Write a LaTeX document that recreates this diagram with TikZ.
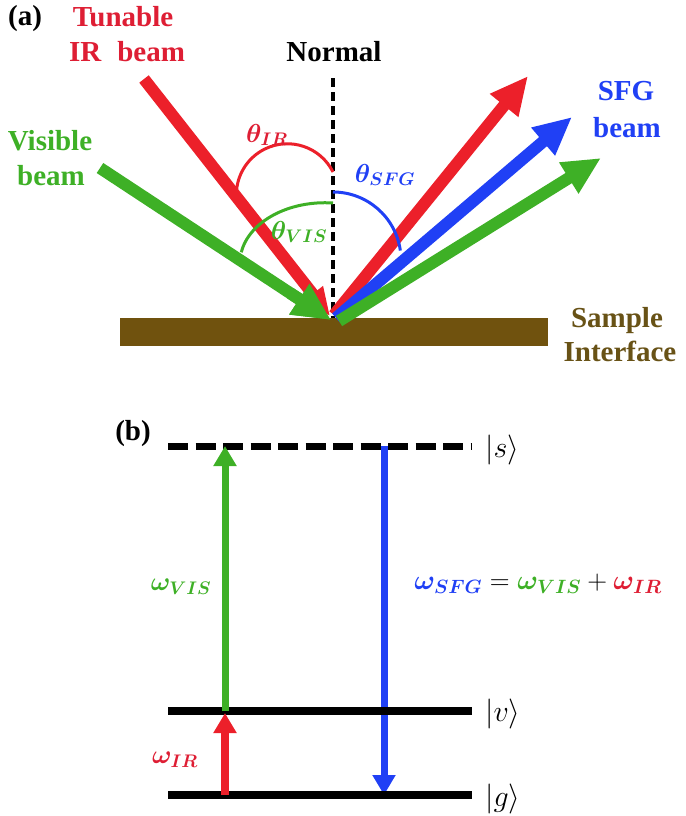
\RequirePackage{fix-cm}
\documentclass[tikz,border=0pt]{standalone}
\usepackage{amsmath}
\usepackage{fontspec}
\setmainfont{Liberation Serif}
\usetikzlibrary{arrows.meta}
\definecolor{beamred}{RGB}{236,32,42}
\definecolor{beamgreen}{RGB}{62,176,38}
\definecolor{beamblue}{RGB}{32,64,245}
\definecolor{textred}{RGB}{222,30,52}
\definecolor{sampbrown}{RGB}{112,82,14}
\definecolor{samptext}{RGB}{104,82,22}
\begin{document}
\begin{tikzpicture}[x=1pt,y=-1pt,
  lbl/.style={font=\fontsize{29}{34}\selectfont\bfseries, inner sep=0pt, anchor=base},
  mlbl/.style={font=\fontsize{26}{30}\selectfont, inner sep=0pt},
  eqlbl/.style={font=\fontsize{27.5}{31}\selectfont, inner sep=0pt},
  ketlbl/.style={font=\fontsize{30}{34}\selectfont, inner sep=0pt, anchor=west},
  beamline/.style={line width=12pt},
  bigtip/.style={-{Triangle[length=38pt,width=34pt]}},
  smalltip/.style={-{Triangle[length=28pt,width=24pt]}},
  angarc/.style={line width=3pt},
  normalline/.style={line width=3.5pt, dash pattern=on 9pt off 5pt},
  level/.style={line width=8pt},
  transarrow/.style={-{Triangle[length=20pt,width=22pt]}},
]
\useasboundingbox (0,0) rectangle (685,816);

% ---------------- (a) ----------------
\node[lbl] (alabel) at (25,26) {(a)};
\node[lbl, textred] (tun1) at (123,27) {Tunable};
\node[lbl, textred] (tun2) at (127,62) {IR\hspace{16pt}beam};
\node[lbl, black] (normal) at (334,61) {Normal};
\node[lbl, beamgreen] (vis1) at (50,150) {Visible};
\node[lbl, beamgreen] (vis2) at (51,185) {beam};
\node[lbl, beamblue] (sfg1) at (626,100) {SFG};
\node[lbl, beamblue] (sfg2) at (627,137) {beam};
\node[lbl, samptext] (samp1) at (617,327) {Sample};
\node[lbl, samptext] (samp2) at (620,361) {Interface};

% sample
\node[fill=sampbrown, inner sep=0pt, minimum width=428pt, minimum height=28pt] (surf) at (334,332) {};

% geometry points
\coordinate (O) at (333,318);
\coordinate (Ntop) at (333,78);
\coordinate (irin) at (144,79);
\coordinate (irtip) at (330,316);
\coordinate (visin) at (100,168);
\coordinate (vistip) at (331,320);
\coordinate (vismid) at (290,293);
\coordinate (irout0) at (334,315);
\coordinate (irout) at (528,76);
\coordinate (sfg0) at (336,318);
\coordinate (sfgout) at (572,117);
\coordinate (visout0) at (339,321);
\coordinate (visout) at (601,158);

\draw[normalline] (Ntop) -- (O);

% incident beams
\draw[beamline, beamgreen, bigtip] (visin) -- (vistip);
\draw[beamline, beamred, smalltip] (irin) -- (irtip);
\draw[beamline, beamgreen, bigtip] (vismid) -- (vistip);

% outgoing beams
\draw[beamline, beamred, bigtip] (irout0) -- (irout);
\draw[beamline, beamblue, bigtip] (sfg0) -- (sfgout);
\draw[beamline, beamgreen, bigtip] (visout0) -- (visout);

% angle arcs
\coordinate (arcIR) at (333,172);
\coordinate (arcVIS) at (333,203);
\coordinate (arcSFG) at (333,192);
\draw[angarc, beamred] (arcIR) arc[start angle=-26.5, end angle=-174.7, radius=51];
\draw[angarc, beamgreen] (arcVIS) arc[start angle=-84.6, end angle=-170, x radius=85, y radius=60];
\draw[angarc, beamblue] (arcSFG) arc[start angle=-90, end angle=-8, radius=68];

\node[mlbl, textred] (thIR) at (267,135) {$\boldsymbol{\theta_{IR}}$};
\node[mlbl, beamgreen] (thVIS) at (299,232) {$\boldsymbol{\theta_{VIS}}$};
\node[mlbl, beamblue] (thSFG) at (385,175) {$\boldsymbol{\theta_{SFG}}$};

% ---------------- (b) ----------------
\node[lbl] (blabel) at (133,440) {(b)};

\coordinate (sL) at (168,446);
\coordinate (sR) at (472,446);
\coordinate (vL) at (168,711);
\coordinate (vR) at (472,711);
\coordinate (gL) at (168,795);
\coordinate (gR) at (472,795);

\coordinate (gA) at (225,795);
\coordinate (vA) at (225,711);
\coordinate (vA2) at (225,713);
\coordinate (sA) at (225,446);
\coordinate (sB) at (384,446);
\coordinate (gB) at (384,795);

\draw[line width=7pt, beamblue, transarrow] (sB) -- (gB);
\draw[line width=7pt, dash pattern=on 20pt off 7.5pt] (sL) -- (sR);
\draw[level] (vL) -- (vR);
\draw[level] (gL) -- (gR);
\draw[line width=7pt, beamgreen, transarrow] (vA) -- (sA);
\draw[line width=8pt, beamred, transarrow] (gA) -- (vA2);

\node[ketlbl] (ks) at (485,450) {$|s\rangle$};
\node[ketlbl] (kv) at (485,714) {$|v\rangle$};
\node[ketlbl] (kg) at (485,799) {$|g\rangle$};

\node[mlbl, beamgreen] (wvis) at (181,587) {$\boldsymbol{\omega_{VIS}}$};
\node[mlbl, textred] (wir) at (175,760) {$\boldsymbol{\omega_{IR}}$};
\node[eqlbl] (weq) at (538,584) {$\color{beamblue}\boldsymbol{\omega_{SFG}}\color{black} = \color{beamgreen}\boldsymbol{\omega_{VIS}}\color{black} + \color{textred}\boldsymbol{\omega_{IR}}$};
\end{tikzpicture}
\end{document}
